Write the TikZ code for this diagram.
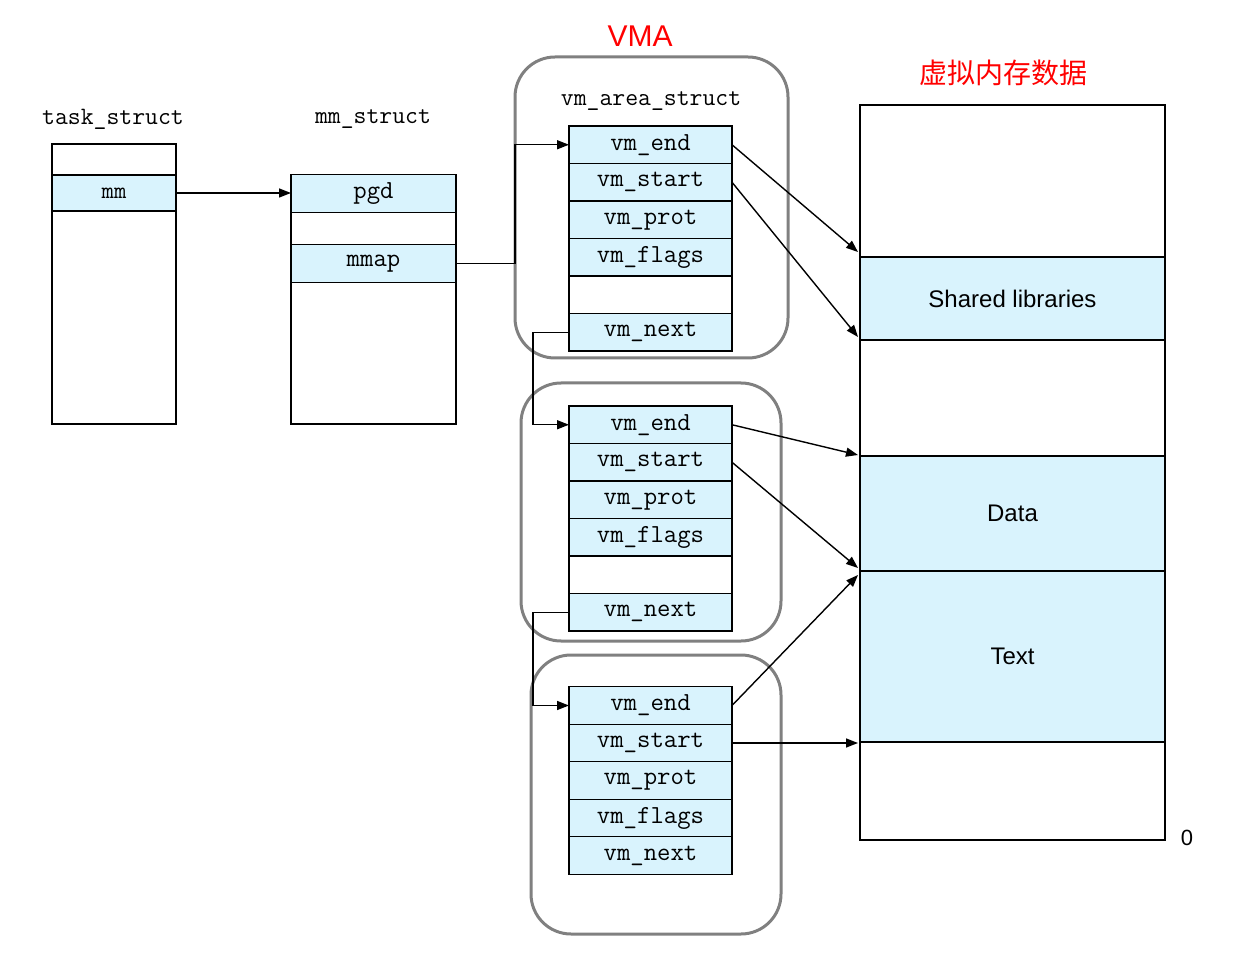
\documentclass[tikz,border=0pt]{standalone}
\usepackage{fontspec}
\setsansfont{Liberation Sans}
\newfontfamily\cjk{Noto Sans CJK SC}
\usepackage{tikz}
\usetikzlibrary{arrows.meta,positioning}

\begin{document}
\begin{tikzpicture}[
    x=1pt, y=-1pt, line width=1.4pt,
    field/.style={draw, fill=cyan!15, minimum width=163pt, minimum height=37.5pt, inner sep=0pt, outer sep=0pt,
      font=\ttfamily\fontsize{26}{28}\selectfont},
    blank/.style={field, fill=white},
    small/.style={draw, fill=cyan!15, minimum width=124pt, minimum height=36pt, inner sep=0pt, outer sep=0pt,
      font=\ttfamily\fontsize{24}{26}\selectfont},
    title/.style={font=\ttfamily\fontsize{25}{27}\selectfont},
    vma/.style={draw=gray, line width=3pt, rounded corners=40pt},
    region/.style={draw, fill=cyan!15, minimum width=305pt, inner sep=0pt, outer sep=0pt, font=\sffamily\fontsize{24}{26}\selectfont},
    arrow/.style={->, >={Triangle[length=12pt,width=9pt]}}
]
\useasboundingbox (0,0) rectangle (1240,965);

% task_struct
\node (task) [title] at (113,119) {task\_struct};
\draw (52,144) rectangle (176,424);
\node (mm) [small] at (114,193) {mm};

% mm_struct
\node (mmtitle) [title] at (373,119) {mm\_struct};
\draw (291,175) rectangle (456,424);
\node (pgd) [field, minimum width=165pt] at (373.5,193.5) {pgd};
\node (mmap) [field, minimum width=165pt] at (373.5,263.5) {mmap};

% VMA groups
\draw [vma] (515,57) rectangle (788,358);
\draw [vma] (521,383) rectangle (781,641);
\draw [vma] (531,655) rectangle (781,934);
\node (vmalabel) [text=red, font=\sffamily\fontsize{30}{32}\selectfont] at (640,36) {VMA};
\node (vmatitle) [title] at (651,101) {vm\_area\_struct};

\foreach \i/\y in {a/126, b/406} {
  \node (\i end)   [field] at (650.5,\y+18.75) {vm\_end};
  \node (\i start) [field, below=0pt of \i end] {vm\_start};
  \node (\i prot)  [field, below=0pt of \i start] {vm\_prot};
  \node (\i flags) [field, below=0pt of \i prot] {vm\_flags};
  \node (\i gap)   [blank, below=0pt of \i flags] {};
  \node (\i next)  [field, below=0pt of \i gap] {vm\_next};
}
\node (cend)   [field] at (650.5,705.5) {vm\_end};
\node (cstart) [field, below=0pt of cend] {vm\_start};
\node (cprot)  [field, below=0pt of cstart] {vm\_prot};
\node (cflags) [field, below=0pt of cprot] {vm\_flags};
\node (cnext)  [field, below=0pt of cflags] {vm\_next};

% memory
\node (memlabel) [text=red, font=\cjk\fontsize{28}{30}\selectfont] at (1003,73) {虚拟内存数据};
\draw (860,105) rectangle (1165,840);
\node (shared) [region, minimum height=83pt] at (1012.5,298.5) {Shared libraries};
\node (data) [region, minimum height=115pt] at (1012.5,513.5) {Data};
\node (text) [region, minimum height=171pt] at (1012.5,656.5) {Text};
\node (zero) [font=\sffamily\fontsize{22}{24}\selectfont] at (1187,838) {0};

\coordinate (m1) at (858,252);
\coordinate (m2) at (858,337);
\coordinate (m3) at (858,455);
\coordinate (m4) at (858,568);
\coordinate (m5) at (858,575);
\coordinate (m6) at (858,742);

% pointers
\draw [arrow] (mm.east) -- (pgd.west |- mm.east);
\draw [arrow] (mmap.east) -- (515,263.5) |- (aend.west);
\draw [arrow] (anext.west) -- ++(-36,0) |- (bend.west);
\draw [arrow] (bnext.west) -- ++(-36,0) |- (cend.west);

\draw [arrow] (aend.east) -- (m1);
\draw [arrow] (astart.east) -- (m2);
\draw [arrow] (bend.east) -- (m3);
\draw [arrow] (bstart.east) -- (m4);
\draw [arrow] (cend.east) -- (m5);
\draw [arrow] (cstart.east) -- (cstart.east -| m6);

\end{tikzpicture}
\end{document}
